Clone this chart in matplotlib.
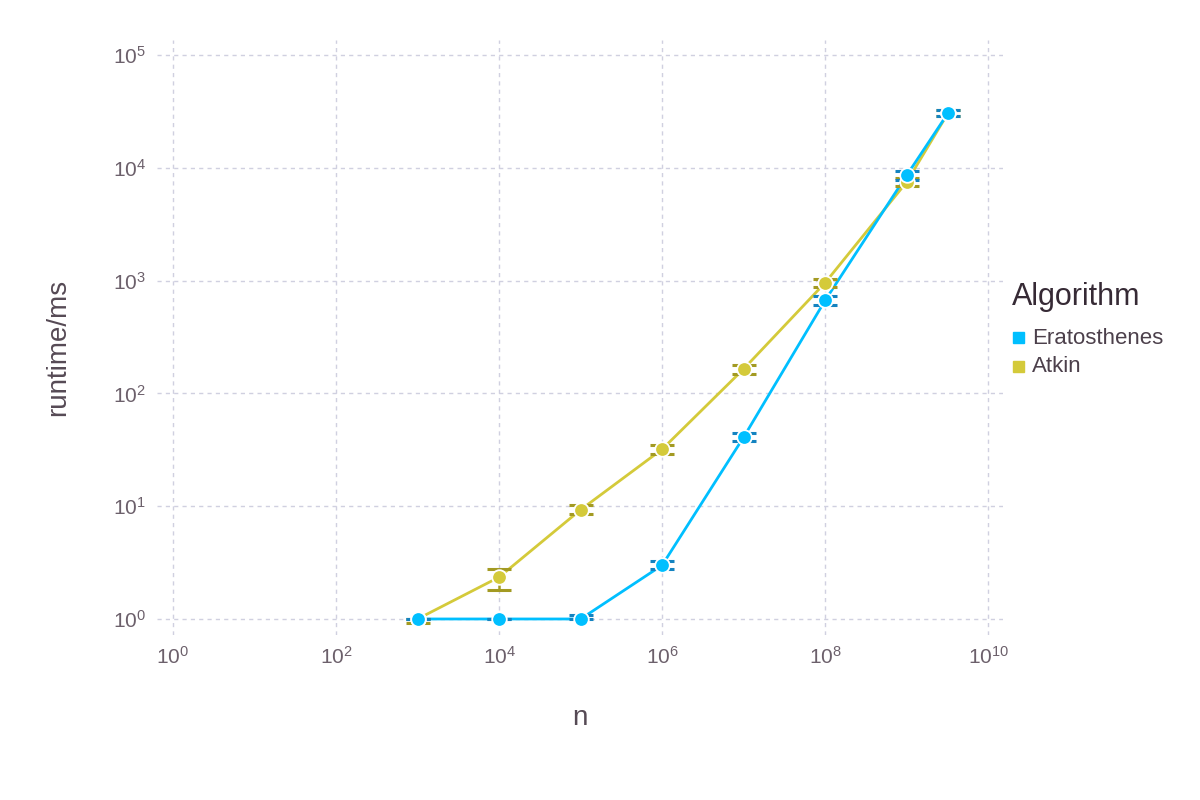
import numpy as np
import matplotlib
matplotlib.use("Agg")
import matplotlib.pyplot as plt

plt.rcParams['font.family'] = ['Liberation Sans', 'DejaVu Sans']
plt.rcParams['mathtext.default'] = 'regular'

# === dados ===
algorithms = ['Eratosthenes', 'Atkin']
n_values = np.array([1e3, 1e4, 1e5, 1e6, 1e7, 1e8, 1e9, 3.2e9])

erat_ms = np.array([1.0, 1.0, 1.0, 3.0, 41, 670, 8600, 30500])
erat_lo = np.array([1.0, 1.0, 1.0, 2.75, 37.5, 610, 7800, 28500])
erat_hi = np.array([1.0, 1.0, 1.08, 3.25, 45, 730, 9400, 32500])

atkin_ms = np.array([1.0, 2.35, 9.3, 32, 165, 960, 7500, 30500])
atkin_lo = np.array([0.93, 1.8, 8.5, 29, 150, 880, 6900, 28500])
atkin_hi = np.array([1.0, 2.8, 10.2, 35, 180, 1040, 8100, 32500])

x_ticks = [1e0, 1e2, 1e4, 1e6, 1e8, 1e10]
x_tick_labels = ['$10^{0}$', '$10^{2}$', '$10^{4}$', '$10^{6}$', '$10^{8}$', '$10^{10}$']
y_ticks = [1e0, 1e1, 1e2, 1e3, 1e4, 1e5]
y_tick_labels = ['$10^{0}$', '$10^{1}$', '$10^{2}$', '$10^{3}$', '$10^{4}$', '$10^{5}$']

colors = {'Eratosthenes': '#00BFFF', 'Atkin': '#D4CA3A'}
err_colors = {'Eratosthenes': '#1483c0', 'Atkin': '#a39a22'}

series = {
    'Eratosthenes': (erat_ms, erat_lo, erat_hi),
    'Atkin': (atkin_ms, atkin_lo, atkin_hi),
}

fig = plt.figure(figsize=(12, 8), dpi=100)
ax = fig.add_axes([157 / 1200, 1 - 635 / 800, (1003 - 157) / 1200, (635 - 40) / 800])

# linhas primeiro, depois barras de erro, depois pontos
for k, alg in enumerate(['Atkin', 'Eratosthenes']):
    y, lo, hi = series[alg]
    ax.plot(n_values, y, color=colors[alg], lw=2, zorder=2 + k)
for k, alg in enumerate(['Atkin', 'Eratosthenes']):
    y, lo, hi = series[alg]
    ax.errorbar(n_values, y, yerr=[y - lo, hi - y], fmt='none',
                ecolor=err_colors[alg], elinewidth=1.8, capsize=8.5,
                capthick=2.2, zorder=4 + k)
for k, alg in enumerate(['Atkin', 'Eratosthenes']):
    y, lo, hi = series[alg]
    ax.plot(n_values, y, 'o', color=colors[alg], ms=10.5, mec='white',
            mew=1.3, zorder=6 + k)

ax.set_xscale('log')
ax.set_yscale('log')
ax.set_xlim(10 ** -0.196, 10 ** 10.18)
ax.set_ylim(10 ** -0.142, 10 ** 5.133)
ax.set_xticks(x_ticks)
ax.set_xticklabels(x_tick_labels)
ax.set_yticks(y_ticks)
ax.set_yticklabels(y_tick_labels)
ax.minorticks_off()
ax.tick_params(length=0, labelsize=15, labelcolor='#6c606b', pad=8)

ax.grid(True, color='#D0D0E0', linestyle=(0, (3, 3)), lw=1)
for s in ax.spines.values():
    s.set_visible(False)

fig.text(580 / 1200, 1 - 718 / 800, 'n', fontsize=20, color='#564a55',
         ha='center', va='center')
fig.text(58 / 1200, 1 - 347 / 800, 'runtime/ms', fontsize=20, color='#564a55',
         ha='center', va='center', rotation=90)

# legenda manual
fig.text(1012 / 1200, 1 - 297 / 800, 'Algorithm', fontsize=22, color='#362a35',
         ha='left', va='center')
for i, alg in enumerate(algorithms):
    yy = 1 - (338 + 29 * i) / 800
    fig.patches.append(plt.Rectangle((1013 / 1200, yy - 5.5 / 800), 11 / 1200, 11 / 800,
                                     transform=fig.transFigure, color=colors[alg]))
    fig.text(1032 / 1200, yy, alg, fontsize=16, color='#4c404b',
             ha='left', va='center')

fig.savefig('out.png', dpi=100)
